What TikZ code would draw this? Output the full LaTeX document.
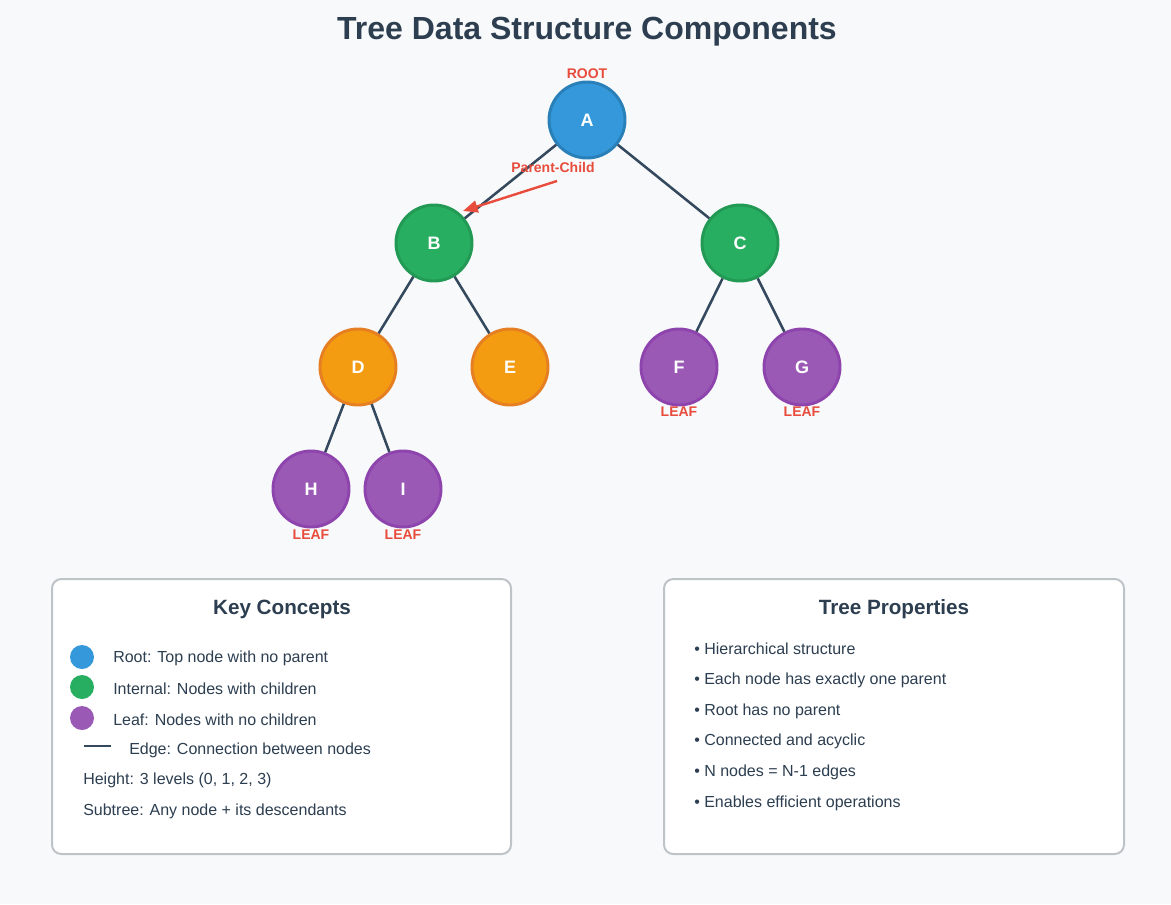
\documentclass[tikz,border=0pt]{standalone}
\usepackage{fontspec}
\setmainfont{Liberation Sans}
\usetikzlibrary{arrows.meta}
\definecolor{bg}{HTML}{F8F9FA}
\definecolor{dark}{HTML}{2C3E50}
\definecolor{edge}{HTML}{34495E}
\definecolor{bl}{HTML}{3498DB}\definecolor{blS}{HTML}{2980B9}
\definecolor{gr}{HTML}{27AE60}\definecolor{grS}{HTML}{229954}
\definecolor{og}{HTML}{F39C12}\definecolor{ogS}{HTML}{E67E22}
\definecolor{pu}{HTML}{9B59B6}\definecolor{puS}{HTML}{8E44AD}
\definecolor{rd}{HTML}{E74C3C}
\definecolor{box}{HTML}{BDC3C7}
\begin{document}
\begin{tikzpicture}[x=0.75pt,y=-0.75pt,
 tn/.style={circle,minimum size=57pt,inner sep=0pt,line width=2.2pt,text=white,font=\bfseries\fontsize{13.5}{16}\selectfont},
 root/.style={tn,fill=bl,draw=blS},
 int/.style={tn,fill=gr,draw=grS},
 mid/.style={tn,fill=og,draw=ogS},
 leaf/.style={tn,fill=pu,draw=puS},
 ed/.style={draw=edge,line width=1.9pt},
 lab/.style={text=rd,font=\bfseries\fontsize{10.5}{12}\selectfont},
 txt/.style={text=dark,font=\fontsize{12}{14}\selectfont,anchor=west,inner sep=0pt},
 bx/.style={draw=box,line width=1.5pt,fill=white,rounded corners=7pt},
 bt/.style={text=dark,font=\bfseries\fontsize{15.5}{18}\selectfont},
 dot/.style={circle,minimum size=18pt,inner sep=0pt}]
\fill[bg] (0,0) rectangle (1171,904);
\useasboundingbox (0,0) rectangle (1171,904);
\node[text=dark,font=\bfseries\fontsize{24}{28}\selectfont] (title) at (587,32) {Tree Data Structure Components};
\node[root] (A) at (587,120) {A};
\node[int] (B) at (434,243) {B};
\node[int] (C) at (740,243) {C};
\node[mid] (D) at (358,367) {D};
\node[mid] (E) at (510,367) {E};
\node[leaf] (F) at (679,367) {F};
\node[leaf] (G) at (802,367) {G};
\node[leaf] (H) at (311,489) {H};
\node[leaf] (I) at (403,489) {I};
\begin{scope}[on background layer/.style={}]
\end{scope}
\draw[ed] (A) -- (B); \draw[ed] (A) -- (C);
\draw[ed] (B) -- (D); \draw[ed] (B) -- (E);
\draw[ed] (C) -- (F); \draw[ed] (C) -- (G);
\draw[ed] (D) -- (H); \draw[ed] (D) -- (I);
\node[lab] (rootl) at (587,74) {ROOT};
\node[lab] (pc) at (553,167) {Parent-Child};
\coordinate (p1) at (557,181); \coordinate (p2) at (463,211);
\draw[rd,line width=1.8pt,-{Triangle[length=11pt,width=9pt]}] (p1) -- (p2);
\node[lab] (lf) at (679,412) {LEAF};
\node[lab] (lg) at (802,412) {LEAF};
\node[lab] (lh) at (311,535) {LEAF};
\node[lab] (li) at (403,535) {LEAF};
% boxes
\draw[bx] (52,579) rectangle (511,854);
\draw[bx] (664,579) rectangle (1124,854);
\node[bt] (kt) at (282,609) {Key Concepts};
\node[bt] (tt) at (894,609) {Tree Properties};
\node[dot,fill=bl] (d1) at (82,657) {};
\node[dot,fill=gr] (d2) at (82,687) {};
\node[dot,fill=pu] (d3) at (82,718) {};
\node[txt] (t1) at (113,658) {Root: Top node with no parent};
\node[txt] (t2) at (113,689) {Internal: Nodes with children};
\node[txt] (t3) at (113,720) {Leaf: Nodes with no children};
\coordinate (e1) at (84,746); \coordinate (e2) at (111,746);
\draw[ed,line width=1.5pt] (e1) -- (e2);
\node[txt] (t4) at (129,750) {Edge: Connection between nodes};
\node[txt] (t5) at (83,780) {Height: 3 levels (0, 1, 2, 3)};
\node[txt] (t6) at (83,811) {Subtree: Any node + its descendants};
\node[txt] (r1) at (694,649) {• Hierarchical structure};
\node[txt] (r2) at (694,680) {• Each node has exactly one parent};
\node[txt] (r3) at (694,711) {• Root has no parent};
\node[txt] (r4) at (694,741) {• Connected and acyclic};
\node[txt] (r5) at (694,772) {• N nodes = N-1 edges};
\node[txt] (r6) at (694,803) {• Enables efficient operations};
\end{tikzpicture}
\end{document}
